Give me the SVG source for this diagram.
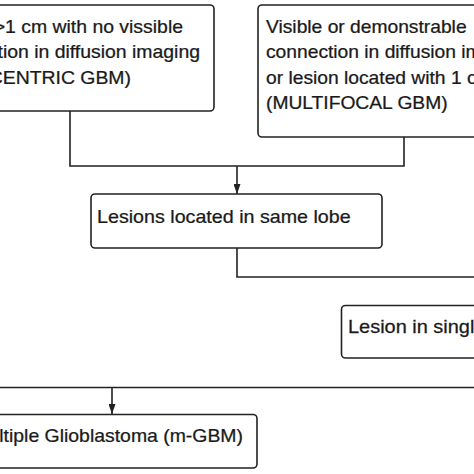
<svg xmlns="http://www.w3.org/2000/svg" width="474" height="474" viewBox="0 0 474 474">
  <style>
    .box { fill: #ffffff; stroke: #222222; stroke-width: 1.6; }
    .conn { fill: none; stroke: #222222; stroke-width: 1.6; }
    .t { font-family: "Liberation Sans", Arial, sans-serif; font-size: 17.5px; fill: #1a1a1a; stroke: #1a1a1a; stroke-width: 0.25; }
  </style>
  <defs>
    <marker id="arrow" viewBox="0 0 10 7" markerUnits="userSpaceOnUse" markerWidth="10" markerHeight="7" refX="10" refY="3.5" orient="auto">
      <path d="M0,0 L10,3.5 L0,7 z" fill="#222222"/>
    </marker>
  </defs>
  <rect width="474" height="474" fill="#ffffff"/>

  <g id="connectors">
    <path class="conn" d="M70,111 V166 H404 V137"/>
    <path class="conn" d="M237,166 V194" marker-end="url(#arrow)"/>
    <path class="conn" d="M237,248 V277 H478"/>
    <path class="conn" d="M-4,387.5 H478"/>
    <path class="conn" d="M112,387.5 V414" marker-end="url(#arrow)"/>
  </g>

  <g id="multicentric">
    <rect class="box" x="-20" y="5" width="234" height="106" rx="4"/>
    <text class="t" text-anchor="end" transform="translate(183,33) scale(1.11,1)">&gt;1 cm with no vissible</text>
    <text class="t" text-anchor="end" transform="translate(200,58) scale(1.11,1)">connection in diffusion imaging</text>
    <text class="t" text-anchor="end" transform="translate(131,84) scale(1.11,1)">(MULTICENTRIC GBM)</text>
  </g>

  <g id="multifocal">
    <rect class="box" x="258" y="5" width="240" height="132" rx="4"/>
    <text class="t" transform="translate(266,33) scale(1.10,1)">Visible or demonstrable</text>
    <text class="t" transform="translate(266,58) scale(1.10,1)">connection in diffusion imaging</text>
    <text class="t" transform="translate(266,84) scale(1.10,1)">or lesion located with 1 cm</text>
    <text class="t" transform="translate(266,109) scale(1.10,1)">(MULTIFOCAL GBM)</text>
  </g>

  <g id="same-lobe">
    <rect class="box" x="91" y="194" width="291" height="54" rx="4"/>
    <text class="t" transform="translate(97,223) scale(1.125,1)">Lesions located in same lobe</text>
  </g>

  <g id="single-lobe">
    <rect class="box" x="341.5" y="305.5" width="160" height="52.5" rx="4"/>
    <text class="t" transform="translate(348,333) scale(1.14,1)">Lesion in single lobe</text>
  </g>

  <g id="mgbm">
    <rect class="box" x="-20" y="414.5" width="277" height="53.5" rx="4"/>
    <text class="t" text-anchor="end" transform="translate(243,442) scale(1.11,1)">Multiple Glioblastoma (m-GBM)</text>
  </g>
</svg>
